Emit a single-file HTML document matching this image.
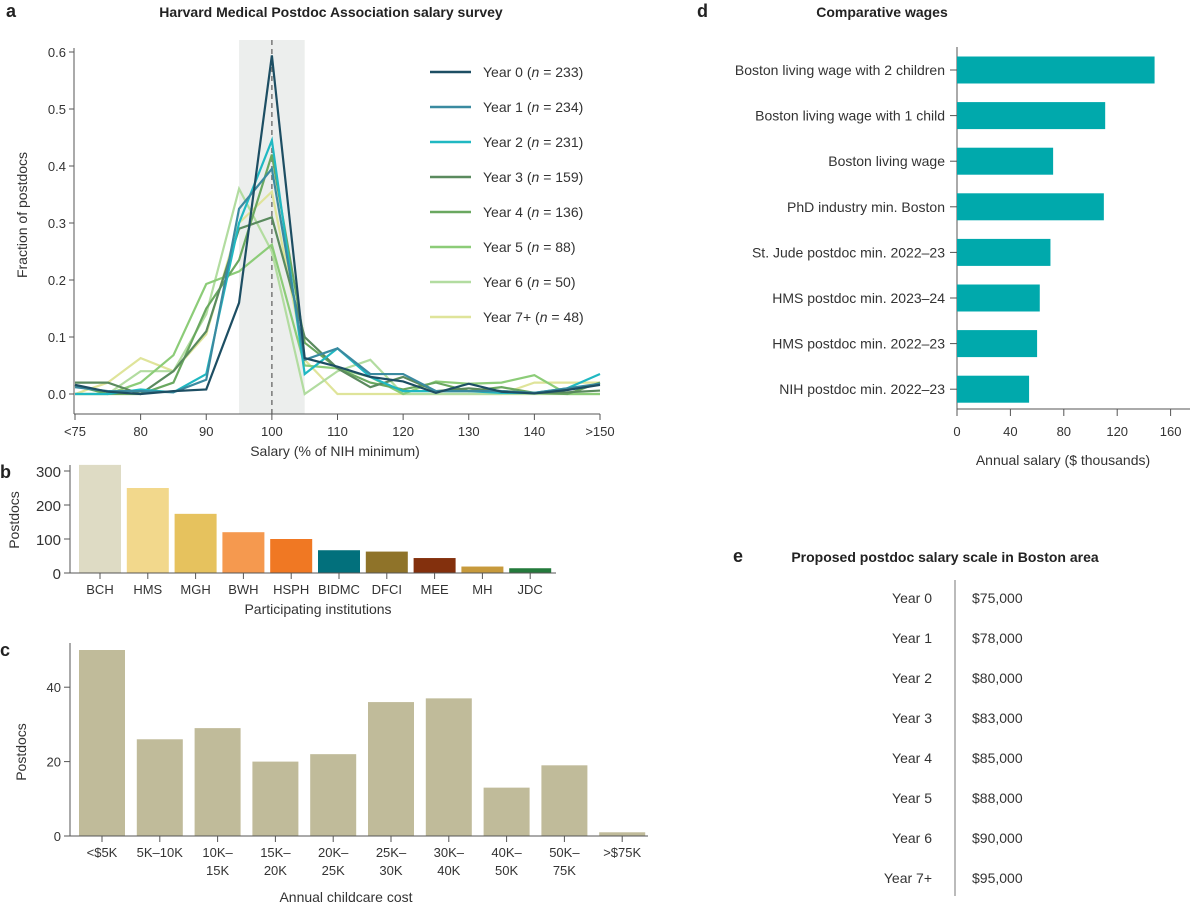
<!DOCTYPE html>
<html><head><meta charset="utf-8">
<style>
body{margin:0;background:#fff;}
svg{display:block;font-family:"Liberation Sans",sans-serif;}
</style></head>
<body>
<svg id="fig" width="1200" height="905" viewBox="0 0 1200 905" xmlns="http://www.w3.org/2000/svg">
<g id="pa"></g>
<g id="pb"></g>
<g id="pc"></g>
<g id="pd"></g>
<g id="pe"></g>
</svg>
<script>
// ---- Panel a data ----
const aXLabels = ["<75","80","90","100","110","120","130","140",">150"];
const aYTicks = [0.0,0.1,0.2,0.3,0.4,0.5,0.6];
const aSeriesNames = ["Year 0","Year 1","Year 2","Year 3","Year 4","Year 5","Year 6","Year 7+"];
const aSeriesN = [233,234,231,159,136,88,50,48];
const aColors = ["#1d4e63","#3a8aa0","#20b8c2","#5a8a5e","#6aa860","#8ccc78","#b2dca0","#dfe49a"];
const aYear0 = [0.016,0.004,0,0.005,0.008,0.16,0.594,0.063,0.048,0.03,0.022,0.002,0.018,0.004,0.001,0.007,0.016];
const aYear1 = [0.012,0.005,0.005,0.003,0.025,0.325,0.395,0.06,0.08,0.035,0.035,0.005,0.005,0.005,0.002,0.01,0.018];
const aYear2 = [0,0,0.008,0.003,0.035,0.3,0.445,0.035,0.08,0.03,0.005,0.005,0.005,0.002,0.002,0.01,0.035];
const aYear3 = [0.02,0.02,0,0.04,0.11,0.29,0.31,0.1,0.045,0.012,0.03,0.005,0.01,0.005,0.002,0.003,0.006];
const aYear4 = [0.015,0,0,0.02,0.15,0.235,0.42,0.09,0.045,0.02,0.008,0.02,0.005,0.012,0.002,0,0.02];
const aYear5 = [0,0,0.02,0.068,0.193,0.215,0.262,0.05,0.045,0.03,0,0.022,0.018,0.02,0.033,0,0];
const aYear6 = [0,0,0.04,0.04,0.14,0.36,0.25,0,0.04,0.06,0,0,0,0,0,0,0];
const aYear7 = [0,0.02,0.063,0.04,0.105,0.3,0.355,0.06,0,0,0,0,0,0,0.02,0.02,0.02];
// ---- Panel b data ----
const bCats = ["BCH","HMS","MGH","BWH","HSPH","BIDMC","DFCI","MEE","MH","JDC"];
const bVals = [318,250,174,120,100,67,63,44,19,14];
const bColors = ["#dedbc4","#f2d88c","#e6c25e","#f5994f","#f07823","#02707c","#8f7329","#83300d","#c79a3c","#247a3c"];
const bTicks = [0,100,200,300];
// ---- Panel c data ----
const cCats = [["<$5K"],["5K–10K"],["10K–","15K"],["15K–","20K"],["20K–","25K"],["25K–","30K"],["30K–","40K"],["40K–","50K"],["50K–","75K"],[">$75K"]];
const cVals = [50,26,29,20,22,36,37,13,19,1];
const cTicks = [0,20,40];
// ---- Panel d data ----
const dCats = ["Boston living wage with 2 children","Boston living wage with 1 child","Boston living wage","PhD industry min. Boston","St. Jude postdoc min. 2022–23","HMS postdoc min. 2023–24","HMS postdoc min. 2022–23","NIH postdoc min. 2022–23"];
const dVals = [148,111,72,110,70,62,60,54];
const dTicks = [0,40,80,120,160];
// ---- Panel e data ----
const eYears = ["Year 0","Year 1","Year 2","Year 3","Year 4","Year 5","Year 6","Year 7+"];
const eSalaries = ["$75,000","$78,000","$80,000","$83,000","$85,000","$88,000","$90,000","$95,000"];

const NS="http://www.w3.org/2000/svg";
function mk(parent,tag,attrs,text){const e=document.createElementNS(NS,tag);for(const k in attrs)e.setAttribute(k,attrs[k]);if(text!==undefined)e.textContent=text;parent.appendChild(e);return e;}
const TXT="#333";

// ================= Panel a =================
(function(){
const g=document.getElementById('pa');
const x0=75,x1=600,y0=394,yPer=570;
const xs=i=>x0+i*(x1-x0)/16;
const ys=v=>y0-v*yPer;
let t=mk(g,'text',{x:6,y:17,'font-size':18,'font-weight':'bold',fill:'#222'},'a');

t=mk(g,'text',{x:331,y:17,'font-size':14,'font-weight':'bold','text-anchor':'middle',fill:'#222'},'Harvard Medical Postdoc Association salary survey');

let r=mk(g,'rect',{x:xs(5),y:40,width:xs(7)-xs(5),height:374,fill:'#eceeed'});

let l=mk(g,'line',{x1:xs(6),x2:xs(6),y1:40,y2:414,stroke:'#777','stroke-width':1.5,'stroke-dasharray':'5,4'});

l=mk(g,'line',{x1:x0-1,x2:x0-1,y1:48,y2:414,stroke:'#555','stroke-width':1});

l=mk(g,'line',{x1:x0-1,x2:x1,y1:414,y2:414,stroke:'#555','stroke-width':1});

aYTicks.forEach(v=>{
 mk(g,'line',{x1:x0-6,x2:x0-1,y1:ys(v),y2:ys(v),stroke:'#555'});
 const tt=mk(g,'text',{x:x0-9,y:ys(v)+5,'font-size':13,'text-anchor':'end',fill:TXT},v.toFixed(1));
 
});
aXLabels.forEach((s,i)=>{
 const x=x0+i*(x1-x0)/8;
 mk(g,'line',{x1:x,x2:x,y1:414,y2:420,stroke:'#555'});
 const tt=mk(g,'text',{x:x,y:436,'font-size':13,'text-anchor':'middle',fill:TXT},s);
 
});
t=mk(g,'text',{x:335,y:456,'font-size':14,'text-anchor':'middle',fill:TXT},'Salary (% of NIH minimum)');

t=mk(g,'text',{x:0,y:0,'font-size':14,'text-anchor':'middle',fill:TXT,transform:'translate(27,215) rotate(-90)'},'Fraction of postdocs');

const series=[aYear0,aYear1,aYear2,aYear3,aYear4,aYear5,aYear6,aYear7];
for(let k=series.length-1;k>=0;k--){
 const p=mk(g,'polyline',{points:series[k].map((v,i)=>xs(i)+','+ys(v)).join(' '),fill:'none',stroke:aColors[k],'stroke-width':2.2,'stroke-linejoin':'miter'});
 
 
}
aSeriesNames.forEach((nm,k)=>{
 const y=72+k*35;
 const le=mk(g,'g',{});
 
 
 mk(le,'line',{x1:430,x2:471,y1:y,y2:y,stroke:aColors[k],'stroke-width':2.6});
 const tt=mk(le,'text',{x:483,y:y+5,'font-size':14,fill:TXT});
 tt.appendChild(document.createTextNode(nm+' ('));
 mk(tt,'tspan',{'font-style':'italic'},'n');
 tt.appendChild(document.createTextNode(' = '+aSeriesN[k]+')'));
});
})();

// ================= Panel b =================
(function(){
const g=document.getElementById('pb');
const base=573,per=0.34,c0=100,step=47.8,w=42;
let t=mk(g,'text',{x:0,y:478,'font-size':18,'font-weight':'bold',fill:'#222'},'b');

mk(g,'line',{x1:70,x2:70,y1:465,y2:573,stroke:'#555'});
bTicks.forEach(v=>{
 mk(g,'line',{x1:64,x2:70,y1:base-v*per,y2:base-v*per,stroke:'#555'});
 const tt=mk(g,'text',{x:61,y:base-v*per+6,'font-size':15,'text-anchor':'end',fill:TXT},String(v));
 
});
bVals.forEach((v,i)=>{
 const cx=c0+i*step;
 const r=mk(g,'rect',{x:cx-w/2,y:base-v*per,width:w,height:v*per,fill:bColors[i]});
 
 
 mk(g,'line',{x1:cx,x2:cx,y1:base,y2:579,stroke:'#555'});
 const tt=mk(g,'text',{x:cx,y:594,'font-size':13,'text-anchor':'middle',fill:TXT},bCats[i]);
 
});
mk(g,'line',{x1:70,x2:556,y1:base,y2:base,stroke:'#555'});
t=mk(g,'text',{x:318,y:614,'font-size':14,'text-anchor':'middle',fill:TXT},'Participating institutions');

t=mk(g,'text',{x:0,y:0,'font-size':14,'text-anchor':'middle',fill:TXT,transform:'translate(19,520) rotate(-90)'},'Postdocs');

})();

// ================= Panel c =================
(function(){
const g=document.getElementById('pc');
const base=836,per=3.72,c0=102,step=57.8,w=46;
let t=mk(g,'text',{x:0,y:656,'font-size':18,'font-weight':'bold',fill:'#222'},'c');

mk(g,'line',{x1:70,x2:70,y1:643,y2:836,stroke:'#555'});
cTicks.forEach(v=>{
 mk(g,'line',{x1:64,x2:70,y1:base-v*per,y2:base-v*per,stroke:'#555'});
 const tt=mk(g,'text',{x:61,y:base-v*per+5,'font-size':13,'text-anchor':'end',fill:TXT},String(v));
 
});
cVals.forEach((v,i)=>{
 const cx=c0+i*step;
 const r=mk(g,'rect',{x:cx-w/2,y:base-v*per,width:w,height:v*per,fill:'#c0bb9a'});
 
 
 mk(g,'line',{x1:cx,x2:cx,y1:base,y2:842,stroke:'#555'});
 cCats[i].forEach((s,j)=>{
  const tt=mk(g,'text',{x:cx,y:857+j*18,'font-size':13,'text-anchor':'middle',fill:TXT},s);
  
 });
});
mk(g,'line',{x1:70,x2:648,y1:base,y2:base,stroke:'#555'});
t=mk(g,'text',{x:346,y:902,'font-size':14,'text-anchor':'middle',fill:TXT},'Annual childcare cost');

t=mk(g,'text',{x:0,y:0,'font-size':14,'text-anchor':'middle',fill:TXT,transform:'translate(26,752) rotate(-90)'},'Postdocs');

})();

// ================= Panel d =================
(function(){
const g=document.getElementById('pd');
const x0=957,per=1.335,c0=70,step=45.6,h=27;
let t=mk(g,'text',{x:697,y:17,'font-size':18,'font-weight':'bold',fill:'#222'},'d');

t=mk(g,'text',{x:882,y:17,'font-size':14,'font-weight':'bold','text-anchor':'middle',fill:'#222'},'Comparative wages');

mk(g,'line',{x1:x0,x2:x0,y1:47,y2:416,stroke:'#555'});
mk(g,'line',{x1:x0,x2:1190,y1:409,y2:409,stroke:'#555'});
dVals.forEach((v,i)=>{
 const cy=c0+i*step;
 const r=mk(g,'rect',{x:x0,y:cy-h/2,width:v*per,height:h,fill:'#00a9ac'});
 
 
 mk(g,'line',{x1:x0-7,x2:x0,y1:cy,y2:cy,stroke:'#555'});
 const tt=mk(g,'text',{x:945,y:cy+5,'font-size':14,'text-anchor':'end',fill:TXT},dCats[i]);
 
});
dTicks.forEach(v=>{
 const x=x0+v*per;
 mk(g,'line',{x1:x,x2:x,y1:409,y2:416,stroke:'#555'});
 const tt=mk(g,'text',{x:x,y:436,'font-size':13,'text-anchor':'middle',fill:TXT},String(v));
 
});
t=mk(g,'text',{x:1063,y:465,'font-size':14,'text-anchor':'middle',fill:TXT},'Annual salary ($ thousands)');

})();

// ================= Panel e =================
(function(){
const g=document.getElementById('pe');
let t=mk(g,'text',{x:733,y:562,'font-size':18,'font-weight':'bold',fill:'#222'},'e');

t=mk(g,'text',{x:945,y:562,'font-size':14,'font-weight':'bold','text-anchor':'middle',fill:'#222'},'Proposed postdoc salary scale in Boston area');

mk(g,'line',{x1:955,x2:955,y1:580,y2:896,stroke:'#777'});
eYears.forEach((s,i)=>{
 const y=603+i*40;
 const a=mk(g,'text',{x:932,y:y,'font-size':14,'text-anchor':'end',fill:TXT},s);
 
 const b=mk(g,'text',{x:972,y:y,'font-size':14,fill:TXT},eSalaries[i]);
 
});
})();
</script>
</body></html>
